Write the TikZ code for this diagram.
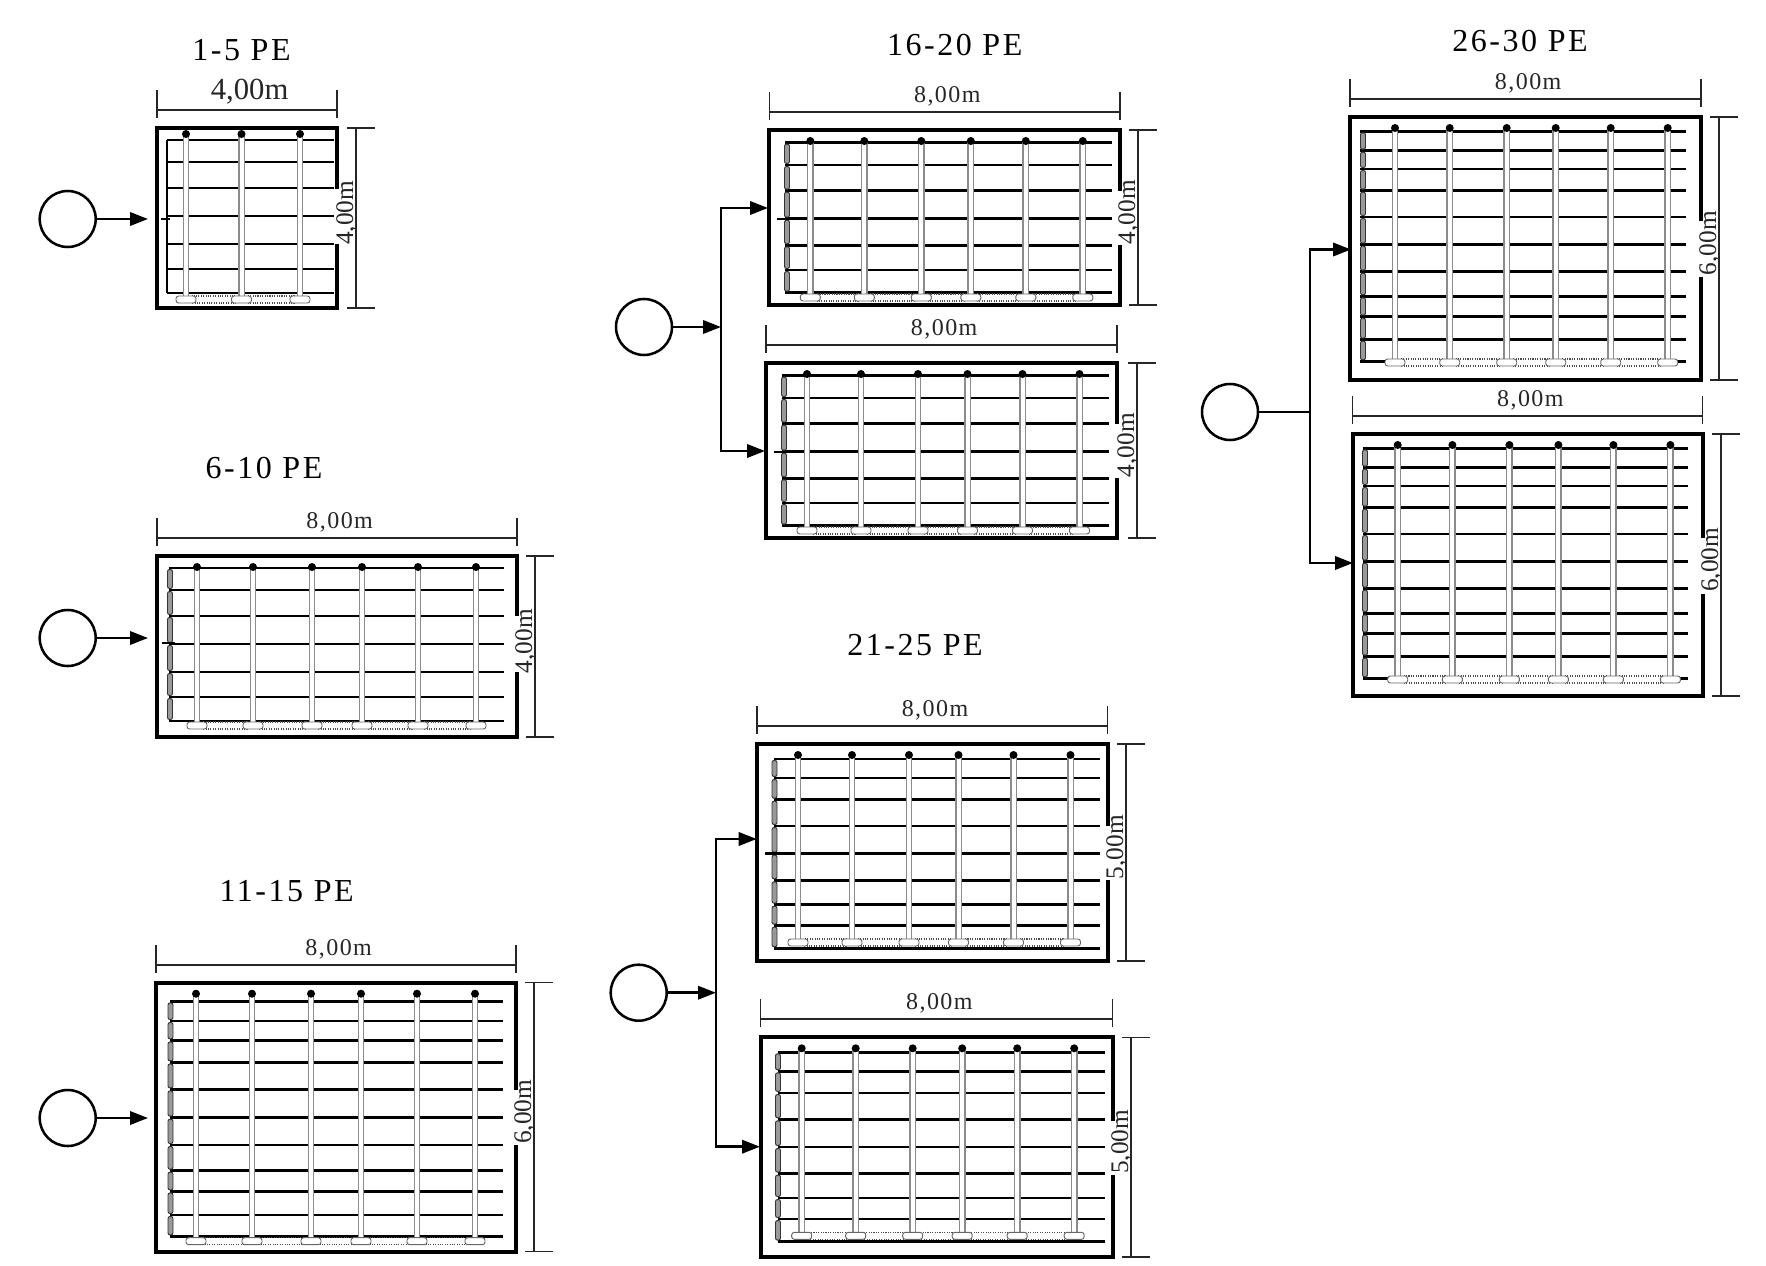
\documentclass[tikz,border=0pt]{standalone}
\usepackage{fontspec}
\setmainfont{Liberation Serif}
\newfontfamily\titlefont[LetterSpace=8]{Liberation Serif}
\newfontfamily\dimfont[LetterSpace=6]{Liberation Serif}
\usetikzlibrary{arrows.meta}

\def\tubesB{40,96,155,205,261,319}
\def\tubesD{41,95,152,201.5,256.5,313.5}
\def\tubesG{45,99.7,156.7,205.7,260.7,317.7}
\def\rowsB{12,34,60,88,116,141,165}
\def\rowsD{12.7,35,60.7,88.7,115.3,140,162.7}
\def\rowsE{15,34,55.7,82,109.7,136.3,160.7,181.7,204.3}
\def\rowsC{18.7,38.3,57.7,79.7,106.7,135,162.3,188,208.7,232.3,253.7}
\def\rowsG{14.3,33.7,52,73.7,100,127.7,154.7,179.3,199.7,222.7,244.3}
\def\insetL{14}
\def\insetR{13}
\def\dotinset{11}

% left, top, right, bottom, tubes, rows, gap top, gap bottom, foot line
\newcommand{\planroom}[9]{
	\draw[wall] (#3,#2+#7) |- (#1,#2) |- (#3,#4) -- (#3,#2+#8);
	\foreach \h in #6
		\draw[rowline] (#1+\insetL,#2+\h) -- (#3-\insetR,#2+\h);
	\foreach \x [count=\i, remember=\x as \lastx (initially 0)] in #5 {
		\draw[tubeout] (#1+\x,#2+\dotinset) -- (#1+\x,#2+#9);
		\draw[tubein] (#1+\x,#2+\dotinset) -- (#1+\x,#2+#9);
		\fill[black] (#1+\x,#2+\dotinset) circle (3pt);
		\ifnum\i>1
			\draw[header] (#1+\lastx+6,#2+#9) rectangle (#1+\x-6,#2+#9+7);
		\fi
	}
	\foreach \x in #5
		\draw[foot] (#1+\x-10,#2+#9) rectangle (#1+\x+10,#2+#9+7);
}
\newcommand{\planfeed}[3]{
	\foreach \h [remember=\h as \lasth (initially -1)] in #3 {
		\ifdim\lasth pt>-1pt
			\draw[feedbox] (#1-2.5,#2+\lasth+1.5) rectangle (#1+2.5,#2+\h-1.5);
		\fi
	}
}
\newcommand{\dimtop}[5]{
	\draw[dimline] (#2,#4) -- node[dimtext, above=3pt, xshift=2pt] (#1) {#5} (#3,#4);
	\draw[dimline] (#2,#4-20) -- (#2,#4+8);
	\draw[dimline] (#3,#4-20) -- (#3,#4+8);
}
\newcommand{\dimright}[5]{
	\draw[dimline] (#2,#3) -- node[dimside, xshift=-7pt, yshift=4pt, rotate=90] (#1) {#5} (#2,#4);
	\draw[dimline] (#2-9,#3) -- (#2+19,#3);
	\draw[dimline] (#2-9,#4) -- (#2+19,#4);
}

\begin{document}
\begin{tikzpicture}[x=.75pt, y=-.75pt,
		wall/.style={line width=2.8pt, line join=miter},
		rowline/.style={line width=2.2pt},
		tubeout/.style={line width=5pt, black!45},
		tubein/.style={line width=3pt, white},
		header/.style={line width=.8pt, densely dotted, draw=black!70, fill=white},
		foot/.style={line width=.7pt, draw=black!60, fill=white, rounded corners=2pt},
		feedbox/.style={line width=.7pt, draw=black!80, fill=black!40, rounded corners=1.5pt},
		dimline/.style={line width=1pt, black!85},
		dimtext/.style={font=\dimfont\fontsize{18}{18}\selectfont, inner sep=1pt},
		dimside/.style={font=\fontsize{19}{19}\selectfont, inner sep=0pt},
		planname/.style={font=\titlefont\fontsize{24}{24}\selectfont, inner sep=0pt},
		well/.style={circle, draw, line width=1.9pt, minimum size=42pt, inner sep=0pt},
		pipeline/.style={line width=1.9pt},
		>={Triangle[length=13.5pt, width=10pt]}]
	\useasboundingbox (0,0) rectangle (1766,1266);

	% 1-5 PE
	\node[planname] (nameA) at (241.5,50) {1-5 PE};
	\begingroup
		\def\insetL{10}\def\insetR{3}\def\dotinset{6}
		\planroom{157}{128}{337}{308}{{29,84.5,143}}{\rowsB}{61}{116}{168}
	\endgroup
	\draw[line width=2.2pt] (167,140) -- (167,293);
	\draw[rowline] (161,219) -- (170,219);
	\dimtop{dimAtop}{157}{337}{110}{\rmfamily\fontsize{23}{23}\selectfont 4,00m}
	\dimright{dimAside}{356}{128}{308}{4,00m}
	\node[well] (wellA) at (67.7,219) {};
	\coordinate (inA) at (148,219);
	\draw[pipeline, ->] (wellA) -- (inA);

	% 6-10 PE
	\node[planname] (nameB) at (264,468) {6-10 PE};
	\def\insetL{12}\def\insetR{13}
	\planroom{157}{556}{517}{737}{\tubesB}{\rowsB}{60}{116}{166}
	\planfeed{170}{556}{\rowsB}
	\draw[rowline] (162,643) -- (175,643);
	\dimtop{dimBtop}{157}{517}{538}{8,00m}
	\dimright{dimBside}{535}{556}{737}{4,00m}
	\node[well] (wellB) at (67.7,638) {};
	\coordinate (inB) at (148,638);
	\draw[pipeline, ->] (wellB) -- (inB);

	% 11-15 PE
	\node[planname] (nameC) at (286.6,891.5) {11-15 PE};
	\def\insetL{14}\def\insetR{13}
	\planroom{156}{982.7}{516}{1251.7}{\tubesB}{\rowsC}{107}{162}{255}
	\planfeed{170.5}{982.7}{\rowsC}
	\dimtop{dimCtop}{156}{516}{965}{8,00m}
	\dimright{dimCside}{534}{982.7}{1251.7}{6,00m}
	\node[well] (wellC) at (67.7,1118) {};
	\coordinate (inC) at (148,1118);
	\draw[pipeline, ->] (wellC) -- (inC);

	% 16-20 PE
	\node[planname] (nameD) at (954.7,45) {16-20 PE};
	\def\insetL{16}\def\insetR{8}
	\planroom{769.3}{130}{1120}{305}{\tubesD}{\rowsD}{61}{115}{164}
	\planfeed{787}{130}{\rowsD}
	\draw[rowline] (777,219) -- (795,219);
	\dimtop{dimDtop}{769.3}{1120}{112}{8,00m}
	\dimright{dimDside}{1138}{130}{305}{4,00m}
	\planroom{766}{363}{1117}{538}{\tubesD}{\rowsD}{61}{115}{164}
	\planfeed{784}{363}{\rowsD}
	\draw[rowline] (774,452) -- (792,452);
	\dimtop{dimDDtop}{766}{1117}{345}{8,00m}
	\dimright{dimDDside}{1137}{363}{538}{4,00m}
	\node[well] (wellD) at (644,327) {};
	\coordinate (forkD) at (721,327);
	\coordinate (inD) at (768,208);
	\coordinate (inDD) at (765,451);
	\draw[pipeline, ->] (wellD) -- (forkD);
	\draw[pipeline, ->] (forkD) |- (inD);
	\draw[pipeline, ->] (forkD) |- (inDD);

	% 21-25 PE
	\node[planname] (nameE) at (915,645.5) {21-25 PE};
	\def\insetL{17}\def\insetR{8}
	\planroom{757}{744}{1107.7}{961}{\tubesD}{\rowsE}{82}{136}{195}
	\planfeed{774.5}{744}{\rowsE}
	\draw[rowline] (765,853.7) -- (782,853.7);
	\dimtop{dimEtop}{757}{1107.7}{726}{8,00m}
	\dimright{dimEside}{1126}{744}{961}{5,00m}
	\planroom{760.7}{1037.3}{1112.7}{1257}{\tubesD}{\rowsE}{84}{138}{195}
	\planfeed{778}{1037.3}{\rowsE}
	\dimtop{dimEEtop}{760.7}{1112.7}{1019}{8,00m}
	\dimright{dimEEside}{1131}{1037.3}{1257}{5,00m}
	\node[well] (wellE) at (638.7,992.7) {};
	\coordinate (forkE) at (716,992.7);
	\coordinate (inE) at (756.7,839);
	\coordinate (inEE) at (760,1146.7);
	\draw[pipeline, ->] (wellE) -- (forkE);
	\draw[pipeline, ->] (forkE) |- (inE);
	\draw[pipeline, ->] (forkE) |- (inEE);

	% 26-30 PE
	\node[planname] (nameG) at (1520,40.6) {26-30 PE};
	\def\insetL{10}\def\insetR{15}
	\planroom{1350}{117}{1701}{380}{\tubesG}{\rowsG}{104}{160}{242}
	\planfeed{1363}{117}{\rowsG}
	\dimtop{dimGtop}{1350}{1701}{99}{8,00m}
	\dimright{dimGside}{1719}{117}{380}{6,00m}
	\planroom{1352.7}{434}{1702.7}{696}{\tubesG}{\rowsG}{104}{160}{242}
	\planfeed{1365}{434}{\rowsG}
	\dimtop{dimGGtop}{1352.7}{1702.7}{416}{8,00m}
	\dimright{dimGGside}{1721}{434}{696}{6,00m}
	\node[well] (wellG) at (1230,412) {};
	\coordinate (forkG) at (1310,412);
	\coordinate (inG) at (1351,249.5);
	\coordinate (inGG) at (1353,563);
	\draw[pipeline] (wellG) -- (forkG);
	\draw[pipeline, ->] (forkG) |- (inG);
	\draw[pipeline, ->] (forkG) |- (inGG);
\end{tikzpicture}
\end{document}
